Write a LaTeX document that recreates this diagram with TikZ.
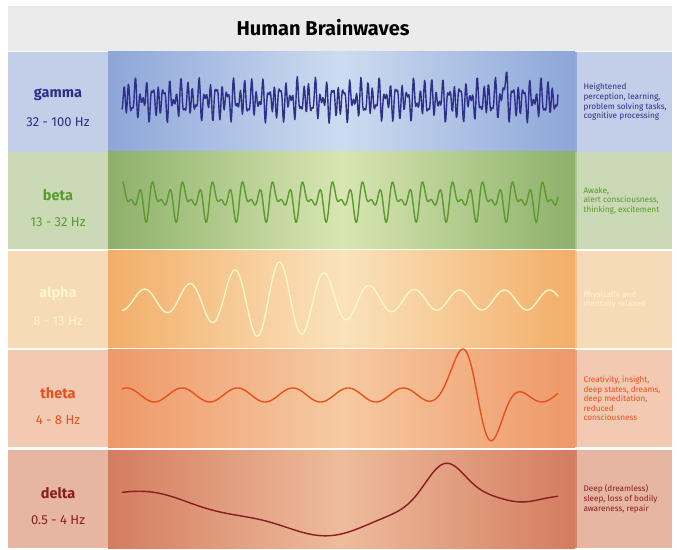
\documentclass[tikz,border=0pt]{standalone}
\usepackage{fontspec}
\setmainfont{Fira Sans}
\begin{document}
\begin{tikzpicture}[x=1pt,y=1pt,
  lbl/.style={font=\fontseries{sb}\fontsize{14.5}{17}\selectfont,anchor=center},
  frq/.style={font=\fontsize{13}{15}\selectfont,anchor=center},
  desc/.style={font=\fontsize{8.2}{9.6}\selectfont,anchor=west,align=left},
  wave/.style={line width=1.4pt,line join=round}]
\useasboundingbox (0,0) rectangle (677,549);
\fill[white] (0,0) rectangle (677,549);
\fill[black!8] (8,498) rectangle (672,543);
\node[font=\fontseries{sb}\fontsize{20}{24}\selectfont] (title) at (323,521) {Human Brainwaves};
\definecolor{gL}{HTML}{C3CEE8}\definecolor{gE}{HTML}{8DA6D8}\definecolor{gC}{HTML}{CCDCF0}\definecolor{gS}{HTML}{8FACDC}\definecolor{gT}{HTML}{2E2E8C}
\definecolor{bL}{HTML}{CAD9B6}\definecolor{bE}{HTML}{8DB06A}\definecolor{bC}{HTML}{D8E6B2}\definecolor{bS}{HTML}{A9C48C}\definecolor{bT}{HTML}{5A9A2E}
\definecolor{aL}{HTML}{F7DAB8}\definecolor{aE}{HTML}{F2AE68}\definecolor{aC}{HTML}{FAE2BC}\definecolor{aS}{HTML}{F4C088}\definecolor{aT}{HTML}{FFF8C8}
\definecolor{tL}{HTML}{F2CAB2}\definecolor{tE}{HTML}{EE9868}\definecolor{tC}{HTML}{F6CAA2}\definecolor{tS}{HTML}{EEA07C}\definecolor{tT}{HTML}{E8501E}
\definecolor{dL}{HTML}{E6B6A2}\definecolor{dE}{HTML}{D47C60}\definecolor{dC}{HTML}{EEBC9C}\definecolor{dS}{HTML}{D8826A}\definecolor{dT}{HTML}{8A1C24}
\foreach \p/\b/\t/\nm/\fq/\ds in {
 g/397/497/gamma/32 - 100 Hz/{Heightened\\perception, learning,\\problem solving tasks,\\cognitive processing},
 b/300/397/beta/13 - 32 Hz/{Awake,\\alert consciousness,\\thinking, excitement},
 a/201/298/alpha/8 - 13 Hz/{Physically and\\mentally relaxed},
 t/102/199/theta/4 - 8 Hz/{Creativity, insight,\\deep states, dreams,\\deep meditation,\\reduced\\consciousness},
 d/1/99/delta/0.5 - 4 Hz/{Deep (dreamless)\\sleep, loss of bodily\\awareness, repair}}{
  \fill[\p L] (8,\b) rectangle (108,\t);
  \shade[left color=\p E,right color=\p E,middle color=\p C] (108,\b) rectangle (575,\t);
  \fill[\p L] (575,\b) rectangle (672,\t);
  \fill[\p S] (575,\b) rectangle (577,\t);
  \node[lbl,text=\p T] (n\p) at (58,{\t-43}) {\nm};
  \node[frq,text=\p T] (f\p) at (58,{\t-70}) {\fq};
  \node[desc,text=\p T] (d\p) at (580,{(\b+\t)/2}) {\ds};
}
\draw[wave,gT] plot[domain=122:558,samples=700] (\x,{449+11*sin(62*mod(\x,180))+8*sin(96*mod(\x,15)+20)+6*sin(40*mod(\x,9)+70)+18*max(0,1-abs(\x-505)/4)});
\draw[wave,bT] plot[domain=122:558,samples=500] (\x,{349+11*sin(24*mod(\x,15))+8*sin(36*mod(\x,10)+40)+5*sin(12*mod(\x,30))});
\draw[wave,aT] plot[domain=122:558,samples=400] (\x,{249+(10+28*exp(-((\x-275)/70)^2))*sin(8*(\x-122)-90)});
\draw[wave,tT] plot[domain=122:558,samples=400] (\x,{154+7*sin(6.5*(\x-122)+60)+93*(-(\x-478)/20)*exp(-((\x-478)/20)^2)});
\draw[wave,dT] plot[domain=122:558,samples=400] (\x,{58-42*exp(-((\x-320)/110)^2)+42*exp(-((\x-445)/28)^2)-12*exp(-((\x-520)/30)^2)+3*sin(3*\x)});
\end{tikzpicture}
\end{document}
